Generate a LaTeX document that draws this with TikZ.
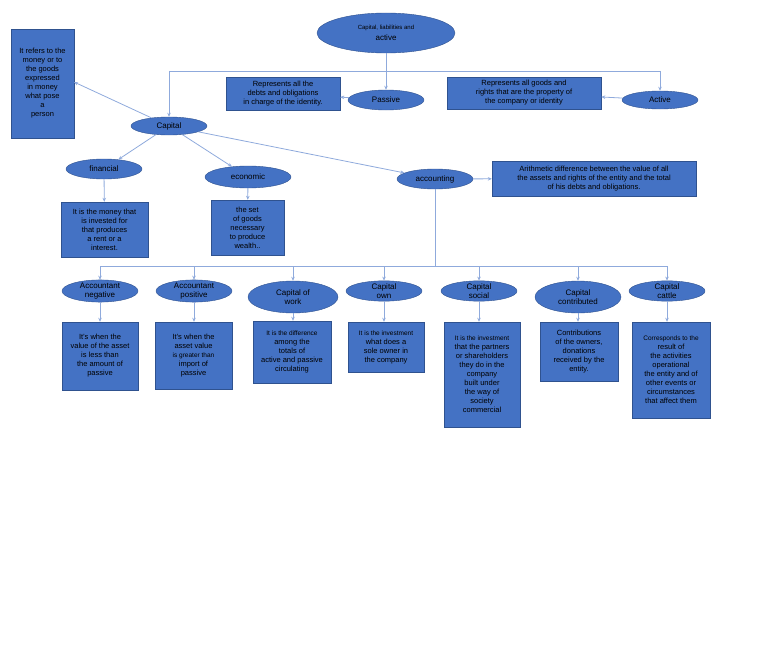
\documentclass[tikz,border=0pt]{standalone}
\usepackage{fontspec}
\setmainfont{Liberation Sans}
\usetikzlibrary{shapes.geometric,arrows.meta}
\definecolor{bfill}{HTML}{4472C4}
\definecolor{bdraw}{HTML}{2F528F}
\definecolor{lnk}{HTML}{8FAADC}
\begin{document}
\begin{tikzpicture}[x=1pt,y=-1pt,
 ell/.style={ellipse,fill=bfill,draw=bdraw,inner sep=0pt,font=\fontsize{8}{8.5}\selectfont,align=center},
 box/.style={rectangle,fill=bfill,draw=bdraw,inner sep=1pt,font=\fontsize{7.5}{9}\selectfont,align=center},
 ln/.style={draw=lnk,line width=0.8pt},
 ar/.style={ln,-{Stealth[length=4pt,width=3.5pt]}}]
\useasboundingbox (0,0) rectangle (768,669);
\node[ell,minimum width=138,minimum height=40] (top) at (386,33) {{\fontsize{6}{7}\selectfont Capital, liabilities and}\\[2pt] active};
\node[ell,minimum width=76,minimum height=18] (cap) at (169,126) {Capital};
\node[ell,minimum width=76,minimum height=20] (pas) at (386,100) {Passive};
\node[ell,minimum width=76,minimum height=18] (act) at (660,100) {Active};
\node[box,minimum width=114,minimum height=33] (pasb) at (283,93.5) {Represents all the\\debts and obligations\\in charge of the identity.};
\node[box,minimum width=154,minimum height=32] (actb) at (524,93) {Represents all goods and\\rights that are the property of\\the company or identity};
\node[box,minimum width=63,minimum height=109] (capb) at (42.5,83.5) {It refers to the\\money or to\\the goods\\expressed\\in money\\what pose\\a\\person};
\node[ell,minimum width=76,minimum height=20] (fin) at (104,169) {financial};
\node[ell,minimum width=86,minimum height=22] (eco) at (248,177) {economic};
\node[ell,minimum width=76,minimum height=20] (acc) at (435,179) {accounting};
\node[box,minimum width=204,minimum height=35] (accb) at (594,178.5) {Arithmetic difference between the value of all\\the assets and rights of the entity and the total\\of his debts and obligations.};
\node[box,minimum width=87,minimum height=55] (finb) at (104.5,229.5) {It is the money that\\is invested for\\that produces\\a rent or a\\interest.};
\node[box,minimum width=73,minimum height=55] (ecob) at (247.5,227.5) {the set\\of goods\\necessary\\to produce\\wealth..};
\coordinate (j) at (386,71);
\coordinate (jl) at (169,71);
\coordinate (jr) at (660,71);
\draw[ln] (top) -- (j);
\draw[ln] (jl) -- (jr);
\draw[ar] (jl) -- (cap);
\draw[ar] (j) -- (pas);
\draw[ar] (jr) -- (act);
\draw[ar] (pas) -- (pasb);
\draw[ar] (act) -- (actb);
\draw[ar] (cap) -- (74,82);
\draw[ar] (cap) -- (fin);
\draw[ar] (cap) -- (eco);
\draw[ar] (cap) -- (acc);
\draw[ar] (acc) -- (accb);
\draw[ar] (fin) -- (finb);
\draw[ar] (eco) -- (ecob);
\coordinate (h) at (435,266);
\coordinate (hl) at (100,266);
\coordinate (hr) at (667,266);
\draw[ln] (acc) -- (h);
\draw[ln] (hl) -- (hr);
\foreach \n/\x/\w/\h/\t in {c1/100/76/20/{Accountant\\negative},c2/194/76/20/{Accountant\\positive},c3/293/90/32/{Capital of\\work},c4/384/76/20/{Capital\\own},c5/479/76/20/{Capital\\social},c6/578/86/32/{Capital\\contributed},c7/667/76/20/{Capital\\cattle}}{
 \node[ell,minimum width=\w,minimum height=\h] (\n) at (\x,{\h>25?297:291}) {\t};
 \coordinate (\n t) at (\x,266);
 \draw[ar] (\n t) -- (\n);
}
\node[box,minimum width=76,minimum height=68] (b1) at (100,356) {It's when the\\value of the asset\\is less than\\the amount of\\passive};
\node[box,minimum width=77,minimum height=67] (b2) at (193.5,355.5) {It's when the\\asset value\\{\fontsize{6.5}{8}\selectfont is greater than}\\import of\\passive};
\node[box,minimum width=78,minimum height=62] (b3) at (292,352) {{\fontsize{6.5}{8}\selectfont It is the difference}\\among the\\totals of\\active and passive\\circulating};
\node[box,minimum width=76,minimum height=50] (b4) at (386,347) {{\fontsize{6.5}{8}\selectfont It is the investment}\\what does a\\sole owner in\\the company};
\node[box,minimum width=76,minimum height=105] (b5) at (482,374.5) {{\fontsize{6.5}{8}\selectfont It is the investment}\\that the partners\\or shareholders\\they do in the\\company\\built under\\the way of\\society\\commercial};
\node[box,minimum width=78,minimum height=59] (b6) at (579,351.5) {Contributions\\of the owners,\\donations\\received by the\\entity.};
\node[box,minimum width=78,minimum height=96] (b7) at (671,370) {{\fontsize{6.5}{8}\selectfont Corresponds to the}\\result of\\the activities\\operational\\the entity and of\\other events or\\circumstances\\that affect them};
\foreach \i in {1,...,7}{\draw[ar] (c\i) -- (b\i.north -| c\i);}
\end{tikzpicture}
\end{document}
